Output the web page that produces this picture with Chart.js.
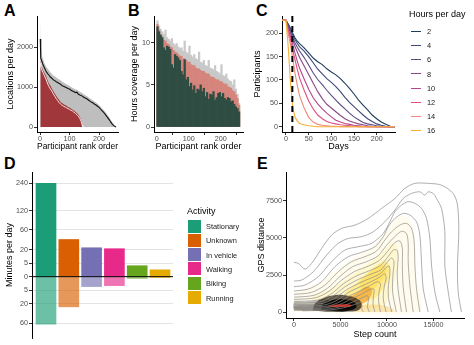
<!DOCTYPE html>
<html>
<head>
<meta charset="utf-8">
<script src="https://cdn.jsdelivr.net/npm/chart.js@4.4.1/dist/chart.umd.min.js"></script>
<style>
  html, body { margin: 0; padding: 0; background: #fff; }
  #fig { position: relative; width: 474px; height: 345px; overflow: hidden; font-family: 'Liberation Sans', Arial, sans-serif; }
  #fig canvas { position: absolute; }
  #legends { position: absolute; left: 0; top: 0; width: 474px; height: 345px; will-change: transform; -webkit-font-smoothing: antialiased; }
  .tag { position: absolute; font-weight: bold; font-size: 16px; line-height: 16px; color: #000; }
  .lg-title { position: absolute; font-size: 9px; line-height: 10px; color: #000; white-space: nowrap; }
  .lg-item { position: absolute; font-size: 7.4px; line-height: 9px; color: #1a1a1a; white-space: nowrap; }
  .lg-key { position: absolute; }
</style>
</head>
<body>
<div id="fig">
  <div class="tag" style="left:4px;top:3px">A</div>
  <div class="tag" style="left:128px;top:3px">B</div>
  <div class="tag" style="left:256px;top:3px">C</div>
  <div class="tag" style="left:4px;top:156px">D</div>
  <div class="tag" style="left:257px;top:156px">E</div>
</div>
<script>
// ---------- Panel A: locations per day, participants in rank order ----------
const aRank      = [1, 2, 3, 6, 10, 15, 20, 25, 30, 35, 40, 45, 50, 55, 60, 65, 70, 75, 80, 85, 90, 95, 100, 105, 110, 115, 120, 125, 130, 135, 140, 145, 150, 155, 160, 165, 170, 175, 180, 185, 190, 195, 200, 205, 210, 215, 220, 225, 230, 235, 240, 245, 250, 255, 258];
const aGrayTop   = [2650, 2650, 2100, 1800, 1700, 1600, 1520, 1460, 1420, 1370, 1330, 1290, 1270, 1240, 1210, 1190, 1170, 1130, 1110, 1090, 1070, 1050, 1030, 1000, 980, 960, 940, 930, 900, 880, 860, 840, 810, 790, 770, 740, 710, 690, 660, 630, 610, 580, 550, 510, 470, 430, 390, 340, 290, 240, 180, 120, 70, 30, 0];
const aBlackLine = [2200, 1900, 1720, 1650, 1560, 1480, 1400, 1340, 1300, 1250, 1220, 1180, 1160, 1130, 1110, 1090, 1070, 1030, 1020, 1000, 980, 960, 950, 920, 900, 880, 860, 870, 820, 800, 790, 760, 740, 720, 700, 670, 640, 620, 600, 570, 550, 520, 490, 450, 410, 370, 330, 280, 230, 180, 120, 70, 35, 10, 0];
const aRedRank   = [1, 3, 6, 10, 15, 20, 25, 30, 35, 40, 45, 50, 55, 60, 65, 70, 75, 80, 85, 90, 95, 100, 105, 110, 115, 120, 125, 130, 135, 140, 143, 145];
const aRedTop    = [1680, 1560, 1500, 1420, 1350, 1280, 1180, 1090, 1040, 960, 900, 840, 780, 720, 680, 620, 600, 570, 550, 530, 500, 490, 460, 440, 410, 380, 350, 310, 250, 170, 80, 0];
const aWhiteLine = [1600, 1500, 1430, 1360, 1280, 1200, 1100, 1010, 950, 900, 830, 770, 710, 660, 610, 570, 540, 520, 500, 480, 460, 440, 420, 400, 370, 340, 310, 270, 210, 130, 50, 0];
const aTicksX = [0, 100, 200];
const aTicksY = [0, 1000, 2000];

// ---------- Panel B: hours coverage per day (bars every 5 ranks) ----------
const bRank   = [2.5, 7.5, 12.5, 17.5, 22.5, 27.5, 32.5, 37.5, 42.5, 47.5, 52.5, 57.5, 62.5, 67.5, 72.5, 77.5, 82.5, 87.5, 92.5, 97.5, 102.5, 107.5, 112.5, 117.5, 122.5, 127.5, 132.5, 137.5, 142.5, 147.5, 152.5, 157.5, 162.5, 167.5, 172.5, 177.5, 182.5, 187.5, 192.5, 197.5, 202.5, 207.5, 212.5, 217.5, 222.5, 227.5, 232.5, 237.5, 242.5, 247.5, 252.5, 257.5];
const bGray   = [12.6, 12.0, 11.6, 11.3, 11.0, 11.5, 10.6, 10.4, 10.2, 10.5, 9.9, 9.7, 9.9, 9.5, 9.3, 9.4, 9.0, 10.2, 8.9, 8.7, 9.6, 8.5, 8.3, 8.6, 8.1, 8.0, 8.9, 7.7, 7.6, 7.9, 7.3, 7.2, 7.9, 7.0, 6.9, 6.8, 7.3, 6.6, 6.5, 6.3, 7.4, 6.1, 6.0, 6.3, 5.7, 5.5, 5.4, 5.0, 5.6, 4.5, 3.9, 2.8];
const bSalmon = [12.2, 11.5, 11.0, 10.7, 10.3, 10.2, 9.9, 9.8, 9.5, 9.4, 9.1, 8.9, 8.8, 8.6, 8.4, 8.4, 8.1, 8.1, 7.9, 7.7, 7.7, 7.4, 7.3, 7.3, 7.0, 6.9, 6.9, 6.7, 6.6, 6.6, 6.4, 6.3, 6.3, 6.0, 5.9, 5.9, 5.7, 5.6, 5.6, 5.4, 5.4, 5.2, 5.1, 5.1, 4.8, 4.7, 4.6, 4.3, 4.2, 3.8, 3.4, 2.6];
const bGreen  = [11.9, 11.3, 10.9, 10.6, 9.4, 9.1, 9.6, 9.5, 9.2, 7.4, 7.0, 8.6, 8.4, 8.2, 7.9, 6.6, 6.2, 8.0, 5.6, 5.9, 4.8, 5.2, 4.4, 4.9, 4.0, 4.5, 4.4, 5.0, 4.2, 4.6, 3.6, 4.1, 3.3, 3.9, 3.8, 4.2, 3.2, 3.5, 4.0, 4.1, 3.6, 4.0, 3.4, 3.2, 3.5, 3.4, 3.0, 3.1, 2.7, 2.4, 2.2, 1.8];
const bTicksX = [0, 100, 200];
const bTicksY = [0, 5, 10];

// ---------- Panel C: participants remaining by days, per hours/day threshold ----------
const cDays = [-9, 0, 5, 10, 15, 20, 25, 30, 40, 50, 60, 70, 80, 90, 100, 110, 120, 130, 140, 150, 160, 170, 180, 190, 200, 210, 220, 230, 240];
const cHours = [2, 4, 6, 8, 10, 12, 14, 16];
const cH2  = [228, 228, 220, 211, 200, 190, 183, 178, 169, 158, 147, 139, 133, 124, 117, 111, 103, 93, 82, 70, 57, 46, 36, 25, 17, 10, 5, 1, 0];
const cH4  = [228, 228, 218, 207, 196, 186, 178, 171, 162, 150, 137, 123, 113, 103, 95, 86, 75, 63, 52, 43, 34, 25, 17, 11, 6, 3, 1, 0, 0];
const cH6  = [228, 228, 215, 203, 190, 179, 170, 162, 148, 132, 115, 101, 90, 78, 67, 57, 47, 38, 29, 21, 15, 9, 6, 4, 2, 1, 0, 0, 0];
const cH8  = [228, 228, 212, 200, 185, 171, 160, 148, 130, 112, 93, 75, 60, 48, 40, 32, 24, 17, 12, 9, 6, 4, 2, 1, 0, 0, 0, 0, 0];
const cH10 = [228, 228, 208, 193, 175, 157, 140, 125, 102, 80, 62, 49, 38, 29, 21, 14, 10, 7, 5, 3, 2, 1, 0, 0, 0, 0, 0, 0, 0];
const cH12 = [228, 228, 205, 186, 163, 143, 122, 104, 78, 55, 38, 25, 17, 11, 8, 6, 4, 3, 2, 1, 0, 0, 0, 0, 0, 0, 0, 0, 0];
const cH14 = [228, 228, 198, 175, 145, 114, 88, 66, 40, 20, 10, 5, 3, 2, 1, 1, 0, 0, 0, 0, 0, 0, 0, 0, 0, 0, 0, 0, 0];
const cH16 = [228, 228, 170, 93, 40, 20, 12, 7, 4, 2, 1, 0, 0, 0, 0, 0, 0, 0, 0, 0, 0, 0, 0, 0, 0, 0, 0, 0, 0];
const cSeries = [cH2, cH4, cH6, cH8, cH10, cH12, cH14, cH16];
const cColors = ['#1f3d5c', '#3c4878', '#5d4b82', '#8a4886', '#b6468a', '#de4f80', '#ee8b7b', '#f2b134'];
const cCutoffDay = 14;
const cTicksX = [0, 50, 100, 150, 200];
const cTicksY = [0, 50, 100, 150, 200];

// ---------- Panel D: minutes per day by activity (sqrt scale, up / down) ----------
const dActivities = ['Stationary', 'Unknown', 'In vehicle', 'Walking', 'Biking', 'Running'];
const dColors     = ['#1b9e77', '#d95f02', '#7570b3', '#e7298a', '#66a61e', '#e6ab02'];
const dUpper      = [240, 38, 23, 21.5, 3.3, 1.3];
const dLower      = [62, 25, 2.7, 2.2, 0.08, 0.03];
const dTickMinutes = [-60, -20, -5, 0, 5, 20, 60, 120, 240];

// ---------- Panel E: GPS distance vs step count density ----------
const eLevel1  = [[0,3350],[465,3290],[1180,2900],[1900,3290],[2970,4300],[4050,5200],[5120,5650],[6550,5870],[7980,6320],[9420,7000],[10850,7670],[11920,8350],[13000,8690],[14430,8690],[15860,8570],[17110,8010],[17580,7220],[17720,5420],[17580,3170],[17650,1370],[18000,0]];
const eLevel2  = [[0,2090],[820,2160],[2080,2720],[3510,3850],[4760,4640],[5840,4970],[7270,5090],[8520,5420],[9770,6100],[10850,6890],[11740,7670],[12640,8010],[13530,8120],[14070,7900],[14430,8120],[14960,8010],[15320,7670],[15860,7000],[16220,5420],[16220,3170],[16580,1370],[16930,0]];
const eLevel3  = [[0,1710],[1180,1820],[2610,2390],[4050,3400],[5480,4190],[6910,4410],[8340,4640],[9600,5310],[10310,6100],[10850,6770],[11560,7220],[12280,7450],[13000,7340],[13710,7000],[14250,6320],[14610,4970],[14790,3170],[15140,1370],[15680,0]];
const eLevel4  = [[0,1420],[1540,1550],[2970,2050],[4400,3060],[5840,3740],[7270,4030],[8700,4410],[9600,5090],[10130,5760],[10850,6320],[11740,6660],[12460,6550],[13170,6100],[13530,5200],[13710,3400],[13890,1600],[14430,0]];
const eLevel5  = [[0,1190],[1900,1330],[3330,1820],[4760,2720],[6190,3400],[7630,3740],[8880,4120],[9770,4860],[10490,5420],[11380,5870],[12100,5990],[12640,5650],[12920,4750],[13000,3170],[13170,1600],[13530,0]];
const eLevel6  = [[0,1000],[2150,1130],[3580,1600],[4940,2400],[6300,3060],[7800,3400],[9050,3800],[9950,4500],[10850,5100],[11560,5450],[12100,5300],[12280,4600],[12280,3400],[12460,1800],[12820,0]];
const eLevel7  = [[0,850],[2300,960],[3760,1400],[5120,2150],[6550,2750],[8000,3100],[9200,3500],[10130,4150],[10850,4700],[11380,4800],[11650,4300],[11650,3200],[11740,1700],[12100,0]];
const eLevel8  = [[0,720],[2500,800],[3950,1200],[5300,1900],[6750,2450],[8150,2800],[9300,3150],[10130,3750],[10700,4200],[11100,4150],[11200,3600],[11100,2700],[11200,1500],[11560,0]];
const eLevel9  = [[0,600],[2700,680],[4100,1050],[5480,1700],[6900,2200],[8250,2550],[9350,2850],[10000,3350],[10500,3650],[10750,3400],[10650,2600],[10600,1400],[11000,0]];
const eLevel10 = [[0,500],[2900,560],[4300,900],[5650,1500],[7000,1950],[8300,2300],[9300,2600],[9900,3000],[10250,3100],[10300,2500],[10150,1800],[10150,1000],[10500,0]];
const eLevel11 = [[0,400],[3100,460],[4500,750],[5800,1300],[7100,1700],[8300,2050],[9200,2350],[9750,2600],[9900,2300],[9700,1700],[9600,900],[9900,0]];
const eLevel12 = [[0,300],[3300,370],[4700,620],[6000,1100],[7200,1450],[8200,1800],[9000,2050],[9300,1900],[9150,1400],[9100,700],[9300,0]];
const eLevel13 = [[200,220],[3500,290],[4900,500],[6200,900],[7250,1200],[8100,1500],[8600,1550],[8550,1100],[8500,500],[8700,0]];
const eLevel14 = [[500,150],[3700,210],[5100,380],[6400,700],[7300,950],[7900,1100],[8000,800],[7900,350],[8100,0]];
const eLevel15 = [[900,80],[3900,140],[5300,280],[6500,500],[7200,650],[7300,400],[7300,150],[7500,0]];
const eContours = [eLevel1, eLevel2, eLevel3, eLevel4, eLevel5, eLevel6, eLevel7, eLevel8, eLevel9, eLevel10, eLevel11, eLevel12, eLevel13, eLevel14, eLevel15];
// density shading, from low to high density
const eCream    = [[0,1400],[2500,1900],[4500,2800],[6500,3700],[8500,4500],[9800,5300],[10800,6200],[11800,6500],[12600,6000],[13000,4500],[13100,2500],[13300,0],[0,0]];
const ePale     = [[1500,900],[4000,1600],[6000,2400],[8000,3300],[9500,4000],[10400,4600],[11000,4600],[11200,3800],[10900,2500],[10300,1200],[9500,400],[6000,300]];
const eYellow   = [[5500,1300],[6800,2000],[8000,2700],[9000,3200],[9900,3400],[10300,3000],[10200,2300],[9600,1600],[8800,1000],[7500,700],[6000,800]];
const eCore     = [[7000,2000],[8200,2700],[9200,3100],[9800,3100],[9900,2600],[9300,2000],[8300,1500],[7300,1400]];
const eBand     = [[6500,0],[6800,350],[8000,500],[9500,450],[10500,250],[10800,0]];
const eOrange   = [[5000,700],[6000,1000],[7000,1400],[7800,1700],[8400,1500],[8200,1000],[7500,600],[6500,400],[5500,450]];
const eSmear    = [[0,80],[0,650],[1200,700],[2500,800],[3500,850],[4000,500],[3000,150],[1500,80]];
const eSmear2   = [[0,100],[0,400],[1500,450],[3000,520],[3200,200],[1500,100]];
const eDark     = [[2000,100],[2300,600],[3200,950],[4500,1150],[5800,1100],[6800,900],[7300,550],[7000,150],[5600,20],[3500,20]];
const eBlack    = [[2900,150],[3200,600],[4400,850],[5600,850],[6500,650],[6700,300],[5800,80],[4000,80]];
const eBlacker  = [[3500,250],[4000,600],[5000,700],[6000,600],[6300,350],[5500,180],[4200,170]];
const eRed      = [[3500,380],[4300,480],[5300,520],[6200,470],[6000,360],[5000,330],[4000,330]];
const eShades = [
  { poly: eCream,   color: 'rgba(255,247,212,0.4)' },
  { poly: ePale,    color: 'rgba(255,240,160,0.4)' },
  { poly: eYellow,  color: 'rgba(255,226,85,0.5)' },
  { poly: eCore,    color: 'rgba(255,215,60,0.5)' },
  { poly: eBand,    color: 'rgba(245,185,55,0.35)' },
  { poly: eOrange,  color: 'rgba(235,140,20,0.55)' },
  { poly: eSmear,   color: 'rgba(70,60,50,0.3)' },
  { poly: eSmear2,  color: 'rgba(50,40,30,0.3)' },
  { poly: eDark,    color: 'rgba(25,15,5,0.7)' },
  { poly: eBlack,   color: 'rgba(0,0,0,0.85)' },
  { poly: eBlacker, color: 'rgba(0,0,0,0.7)' },
  { poly: eRed,     color: 'rgba(225,35,20,0.9)' }
];
const eTicksX = [0, 5000, 10000, 15000];
const eTicksY = [0, 2500, 5000, 7500];

// ---------- helpers ----------
Chart.defaults.font.family = "'Liberation Sans', Arial, sans-serif";
Chart.defaults.animation = false;
Chart.defaults.plugins.legend.display = false;
Chart.defaults.plugins.tooltip.enabled = false;

const fig = document.getElementById('fig');

function pts(xs, ys) {
  return xs.map((x, i) => ({ x: x, y: ys[i] }));
}
function pairs(list) {
  return list.map(p => ({ x: p[0], y: p[1] }));
}

function makeCanvas(left, top, width, height) {
  const c = document.createElement('canvas');
  c.width = width;
  c.height = height;
  c.style.left = left + 'px';
  c.style.top = top + 'px';
  c.style.width = width + 'px';
  c.style.height = height + 'px';
  fig.appendChild(c);
  return c;
}

// ggplot "classic" looking axis with fixed box size
function axis(o) {
  return {
    type: 'linear',
    display: o.display !== false,
    min: o.min,
    max: o.max,
    offset: false,
    afterBuildTicks: s => { if (o.ticks) s.ticks = o.ticks.map(v => ({ value: v })); },
    afterFit: s => { if (o.horizontal) s.height = o.size; else s.width = o.size; },
    grid: Object.assign({ drawOnChartArea: false, tickLength: 3, tickColor: '#333', tickWidth: 1 }, o.grid || {}),
    border: { display: true, color: '#000', width: 1 },
    ticks: {
      autoSkip: false, maxRotation: 0,
      font: { size: 7.2 }, color: '#4d4d4d', padding: o.tickPad == null ? 1 : o.tickPad,
      callback: o.fmt || (v => String(v))
    },
    title: o.title ? { display: true, text: o.title, font: { size: 9 }, color: '#000', padding: o.titlePad } : { display: false }
  };
}

// ---------- A ----------
new Chart(makeCanvas(0, 0, 128, 156), {
  type: 'line',
  data: { datasets: [
    { data: pts(aRank, aGrayTop), fill: 'origin', backgroundColor: '#bebebe', borderWidth: 0, pointRadius: 0, order: 4 },
    { data: pts(aRedRank, aRedTop), fill: 'origin', backgroundColor: '#a0373a', borderWidth: 0, pointRadius: 0, order: 3 },
    { data: pts(aRedRank, aWhiteLine), borderColor: '#f6e2e2', borderWidth: 1, pointRadius: 0, fill: false, order: 2 },
    { data: pts(aRank, aBlackLine), borderColor: '#111', borderWidth: 1.1, pointRadius: 0, fill: false, order: 1 }
  ]},
  options: {
    responsive: false,
    layout: { padding: { top: 16, right: 10, left: 0, bottom: 0 } },
    scales: {
      x: axis({ horizontal: true, size: 24, min: -10.2, max: 264.4, ticks: aTicksX, title: 'Participant rank order', titlePad: { top: 0, bottom: 4 }, tickPad: 0 }),
      y: axis({ size: 37, min: -125, max: 2775, ticks: aTicksY, title: 'Locations per day', titlePad: { top: 5.5, bottom: 0 } })
    }
  }
});

// ---------- B ----------
new Chart(makeCanvas(128, 0, 124, 156), {
  type: 'bar',
  data: { datasets: [
    { data: pts(bRank, bGray), backgroundColor: '#c9c9c9', order: 3 },
    { data: pts(bRank, bSalmon), backgroundColor: '#d5857b', order: 2 },
    { data: pts(bRank, bGreen), backgroundColor: '#2f4d42', order: 1 }
  ]},
  options: {
    responsive: false,
    datasets: { bar: { grouped: false, barPercentage: 1, categoryPercentage: 1, borderWidth: 0 } },
    layout: { padding: { top: 16, right: 9, left: 0, bottom: 0 } },
    scales: {
      x: axis({ horizontal: true, size: 24, min: -8.4, max: 269.7, ticks: bTicksX, title: 'Participant rank order', titlePad: { top: 0, bottom: 4 }, tickPad: 0 }),
      y: axis({ size: 26, min: -0.59, max: 13.17, ticks: bTicksY, title: 'Hours coverage per day', titlePad: { top: 1.6, bottom: 0 } })
    }
  }
});

// ---------- C ----------
const cDatasets = cSeries.map((vals, i) => ({
  data: pts(cDays, vals), borderColor: cColors[i], borderWidth: 1.1, pointRadius: 0, fill: false, order: 10 - i
}));
cDatasets.push({
  data: [{ x: cCutoffDay, y: -11.35 }, { x: cCutoffDay, y: 237 }],
  borderColor: '#000', borderWidth: 2, borderDash: [6, 4], pointRadius: 0, fill: false, order: 0
});
new Chart(makeCanvas(252, 0, 148, 156), {
  type: 'line',
  data: { datasets: cDatasets },
  options: {
    responsive: false,
    layout: { padding: { top: 16, right: 5, left: 0, bottom: 0 } },
    scales: {
      x: axis({ horizontal: true, size: 24, min: -8.82, max: 240.4, ticks: cTicksX, title: 'Days', titlePad: { top: 0, bottom: 4 }, tickPad: 0 }),
      y: axis({ size: 30, min: -11.35, max: 237, ticks: cTicksY, title: 'Participants', titlePad: { top: 0, bottom: 0 } })
    }
  }
});

// ---------- D ----------
const sq = m => (m < 0 ? -Math.sqrt(-m) : Math.sqrt(m));
const dIdx = dActivities.map((a, i) => i);
new Chart(makeCanvas(0, 156, 180, 189), {
  type: 'bar',
  data: { datasets: [
    { data: pts(dIdx, dUpper.map(sq)), backgroundColor: dColors, barThickness: 20, grouped: false, order: 2 },
    { data: pts(dIdx, dLower.map(m => -sq(m))), backgroundColor: dColors.map(c => c + 'a6'), barThickness: 20, grouped: false, order: 3 },
    { type: 'line', data: [{ x: -0.614, y: 0 }, { x: 5.57, y: 0 }], borderColor: '#000', borderWidth: 1, pointRadius: 0, fill: false, order: 1 }
  ]},
  options: {
    responsive: false,
    layout: { padding: { top: 16, right: 7, left: 0, bottom: 7 } },
    scales: {
      x: axis({ display: false, min: -0.614, max: 5.57 }),
      y: axis({
        size: 32, min: -10.17, max: 17.36,
        ticks: dTickMinutes.map(sq),
        fmt: v => String(Math.round(v * v)),
        grid: { drawOnChartArea: true, color: '#dcdcdc', lineWidth: 0.8 },
        title: 'Minutes per day', titlePad: { top: 4.6, bottom: 0 }
      })
    }
  }
});

// ---------- E ----------
const eDatasets = [];
eShades.forEach((s, i) => {
  eDatasets.push({ data: pairs(s.poly), showLine: true, fill: 'shape', backgroundColor: s.color, borderWidth: 0, pointRadius: 0, tension: 0.4, order: 100 - i });
});
eContours.forEach(c => {
  eDatasets.push({ data: pairs(c), showLine: true, fill: false, borderColor: '#8c8c8c', borderWidth: 0.7, pointRadius: 0, tension: 0.3, order: 1 });
});
new Chart(makeCanvas(252, 156, 222, 189), {
  type: 'scatter',
  data: { datasets: eDatasets },
  options: {
    responsive: false,
    layout: { padding: { top: 16, right: 10, left: 0, bottom: 0 } },
    scales: {
      x: axis({ horizontal: true, size: 27, min: -860, max: 18280, ticks: eTicksX, title: 'Step count', titlePad: { top: 0, bottom: 4.6 }, tickPad: 0 }),
      y: axis({ size: 34, min: -405, max: 9459, ticks: eTicksY, title: 'GPS distance', titlePad: { top: 4.6, bottom: 0 } })
    }
  }
});

// ---------- legends (HTML, built from the same arrays) ----------
const legends = document.createElement('div');
legends.id = 'legends';
fig.appendChild(legends);

function addDiv(cls, left, top, text, style) {
  const d = document.createElement('div');
  d.className = cls;
  d.style.left = left + 'px';
  d.style.top = top + 'px';
  if (text != null) d.textContent = text;
  if (style) Object.assign(d.style, style);
  legends.appendChild(d);
  return d;
}

addDiv('lg-title', 409, 9, 'Hours per day');
cHours.forEach((h, i) => {
  const cy = 31.3 + i * 14.2;
  addDiv('lg-key', 411, cy - 0.6, null, { width: '10px', height: '1.2px', background: cColors[i] });
  addDiv('lg-item', 427, cy - 4.3, String(h));
});

addDiv('lg-title', 187, 205.5, 'Activity');
dActivities.forEach((a, i) => {
  const top = 219.5 + i * 14.3;
  addDiv('lg-key', 187.5, top, null, { width: '13px', height: '13px', background: dColors[i] });
  addDiv('lg-item', 206, top + 2.5, a);
});
</script>
</body>
</html>
